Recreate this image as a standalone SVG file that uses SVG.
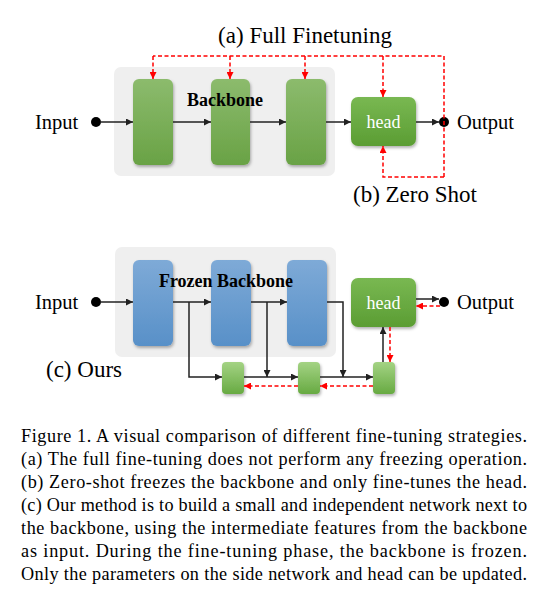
<svg xmlns="http://www.w3.org/2000/svg" width="550" height="610" viewBox="0 0 550 610">
<style>
.lbl{font-family:"Liberation Serif","Times New Roman",serif;fill:#000}
.big{font-size:23px}
.io{font-size:20.5px}
.bb{font-size:18px;font-weight:bold}
.hd{font-size:18px;fill:#fff}
.cap{font-size:18.2px}
.bk{fill:none;stroke:#222;stroke-width:1.5}
.rd{fill:none;stroke:#ff0000;stroke-width:1.5;stroke-dasharray:4 2.5}
.bg{fill:#efefef}
</style>
<defs>
<linearGradient id="gG" x1="0" y1="0" x2="0" y2="1"><stop offset="0" stop-color="#8cbb6d"/><stop offset="1" stop-color="#69a245"/></linearGradient>
<linearGradient id="gH" x1="0" y1="0" x2="0" y2="1"><stop offset="0" stop-color="#79b852"/><stop offset="1" stop-color="#5b9d33"/></linearGradient>
<linearGradient id="gB" x1="0" y1="0" x2="0" y2="1"><stop offset="0" stop-color="#7eaad7"/><stop offset="1" stop-color="#5890c8"/></linearGradient>
<linearGradient id="gS" x1="0" y1="0" x2="0" y2="1"><stop offset="0" stop-color="#a4d384"/><stop offset="1" stop-color="#67aa42"/></linearGradient>
<filter id="sh" x="-20%" y="-20%" width="150%" height="150%"><feDropShadow dx="1" dy="2" stdDeviation="1.5" flood-color="#000" flood-opacity="0.3"/></filter>
<marker id="ab" viewBox="0 0 10 10" refX="10" refY="5" markerWidth="9" markerHeight="7" markerUnits="userSpaceOnUse" orient="auto"><path d="M0,0 L10,5 L0,10 z" fill="#222"/></marker>
<marker id="ar" viewBox="0 0 10 10" refX="10" refY="5" markerWidth="9" markerHeight="7" markerUnits="userSpaceOnUse" orient="auto"><path d="M0,0 L10,5 L0,10 z" fill="#ff0000"/></marker>
</defs>
<rect width="550" height="610" fill="#fff"/>

<!-- Panel (a)/(b) -->
<text class="lbl big" x="305" y="43" text-anchor="middle">(a) Full Finetuning</text>
<rect id="bg-top" class="bg" x="114" y="67" width="221" height="109" rx="7"/>
<g id="top-block1"><rect x="133" y="79" width="40" height="86" rx="6" fill="url(#gG)" filter="url(#sh)"/></g>
<g id="top-block2"><rect x="211" y="79" width="39" height="86" rx="6" fill="url(#gG)" filter="url(#sh)"/></g>
<g id="top-block3"><rect x="286" y="79" width="40" height="86" rx="6" fill="url(#gG)" filter="url(#sh)"/></g>
<text class="lbl bb" x="225" y="106" text-anchor="middle">Backbone</text>
<g id="top-head"><rect x="351" y="97" width="65" height="49" rx="7" fill="url(#gH)" filter="url(#sh)"/><text class="lbl hd" x="383.5" y="128" text-anchor="middle">head</text></g>
<g id="top-input"><text class="lbl io" x="35" y="129">Input</text><circle cx="96" cy="122" r="5" fill="#000"/></g>
<g id="top-output"><circle cx="444" cy="122" r="5" fill="#000"/><text class="lbl io" x="457" y="129">Output</text></g>
<text class="lbl big" x="353" y="202">(b) Zero Shot</text>

<g id="connectors-top">
<path class="bk" d="M100,122 H133" marker-end="url(#ab)"/>
<path class="bk" d="M173,122 H211" marker-end="url(#ab)"/>
<path class="bk" d="M250,122 H286" marker-end="url(#ab)"/>
<path class="bk" d="M326,122 H351" marker-end="url(#ab)"/>
<path class="bk" d="M416,122 H439" marker-end="url(#ab)"/>
<path class="rd" d="M444,177 V56 H153"/>
<path class="rd" d="M153,56 V79" marker-end="url(#ar)"/>
<path class="rd" d="M230,56 V79" marker-end="url(#ar)"/>
<path class="rd" d="M305,56 V79" marker-end="url(#ar)"/>
<path class="rd" d="M383,56 V97" marker-end="url(#ar)"/>
<path class="rd" d="M444,177 H383 V146" marker-end="url(#ar)"/>
</g>

<!-- Panel (c) -->
<rect id="bg-bottom" class="bg" x="115" y="247" width="221" height="110" rx="7"/>
<g id="bot-block1"><rect x="133" y="260" width="40" height="86" rx="6" fill="url(#gB)" filter="url(#sh)"/></g>
<g id="bot-block2"><rect x="211" y="260" width="40" height="86" rx="6" fill="url(#gB)" filter="url(#sh)"/></g>
<g id="bot-block3"><rect x="287" y="260" width="40" height="86" rx="6" fill="url(#gB)" filter="url(#sh)"/></g>
<text class="lbl bb" x="226" y="287" text-anchor="middle">Frozen Backbone</text>
<g id="bot-head"><rect x="351" y="278" width="65" height="49" rx="7" fill="url(#gH)" filter="url(#sh)"/><text class="lbl hd" x="383.5" y="309" text-anchor="middle">head</text></g>
<g id="side1"><rect x="222" y="362" width="22" height="32" rx="4" fill="url(#gS)" filter="url(#sh)"/></g>
<g id="side2"><rect x="298" y="362" width="22" height="32" rx="4" fill="url(#gS)" filter="url(#sh)"/></g>
<g id="side3"><rect x="373" y="362" width="22" height="32" rx="4" fill="url(#gS)" filter="url(#sh)"/></g>
<g id="bot-input"><text class="lbl io" x="35" y="309">Input</text><circle cx="96" cy="302" r="5" fill="#000"/></g>
<g id="bot-output"><circle cx="444" cy="302" r="5" fill="#000"/><text class="lbl io" x="457" y="309">Output</text></g>
<text class="lbl big" x="46" y="377">(c) Ours</text>

<g id="connectors-bottom">
<path class="bk" d="M100,302 H133" marker-end="url(#ab)"/>
<path class="bk" d="M173,302 H211" marker-end="url(#ab)"/>
<path class="bk" d="M251,302 H287" marker-end="url(#ab)"/>
<path class="bk" d="M189,302 V377 H222" marker-end="url(#ab)"/>
<path class="bk" d="M267,302 V377" marker-end="url(#ab)"/>
<path class="bk" d="M327,302 H343 V377" marker-end="url(#ab)"/>
<path class="bk" d="M244,377 H298" marker-end="url(#ab)"/>
<path class="bk" d="M320,377 H373" marker-end="url(#ab)"/>
<path class="rd" d="M373,386 H320" marker-end="url(#ar)"/>
<path class="rd" d="M298,386 H244" marker-end="url(#ar)"/>
<path class="bk" d="M383,362 V327" marker-end="url(#ab)"/>
<path class="rd" d="M390,327 V362" marker-end="url(#ar)"/>
<path class="bk" d="M416,299 H439" marker-end="url(#ab)"/>
<path class="rd" d="M440,306 H416" marker-end="url(#ar)"/>
</g>

<!-- Caption -->
<g id="caption" class="lbl cap">
<text x="21" y="442" textLength="506" lengthAdjust="spacing">Figure 1.  A visual comparison of different fine-tuning strategies.</text>
<text x="21" y="465" textLength="506" lengthAdjust="spacing">(a) The full fine-tuning does not perform any freezing operation.</text>
<text x="21" y="488" textLength="506" lengthAdjust="spacing">(b) Zero-shot freezes the backbone and only fine-tunes the head.</text>
<text x="21" y="511" textLength="506" lengthAdjust="spacing">(c) Our method is to build a small and independent network next to</text>
<text x="21" y="534" textLength="506" lengthAdjust="spacing">the backbone, using the intermediate features from the backbone</text>
<text x="21" y="557" textLength="506" lengthAdjust="spacing">as input.  During the fine-tuning phase, the backbone is frozen.</text>
<text x="21" y="580" textLength="506" lengthAdjust="spacing">Only the parameters on the side network and head can be updated.</text>
</g>
</svg>
